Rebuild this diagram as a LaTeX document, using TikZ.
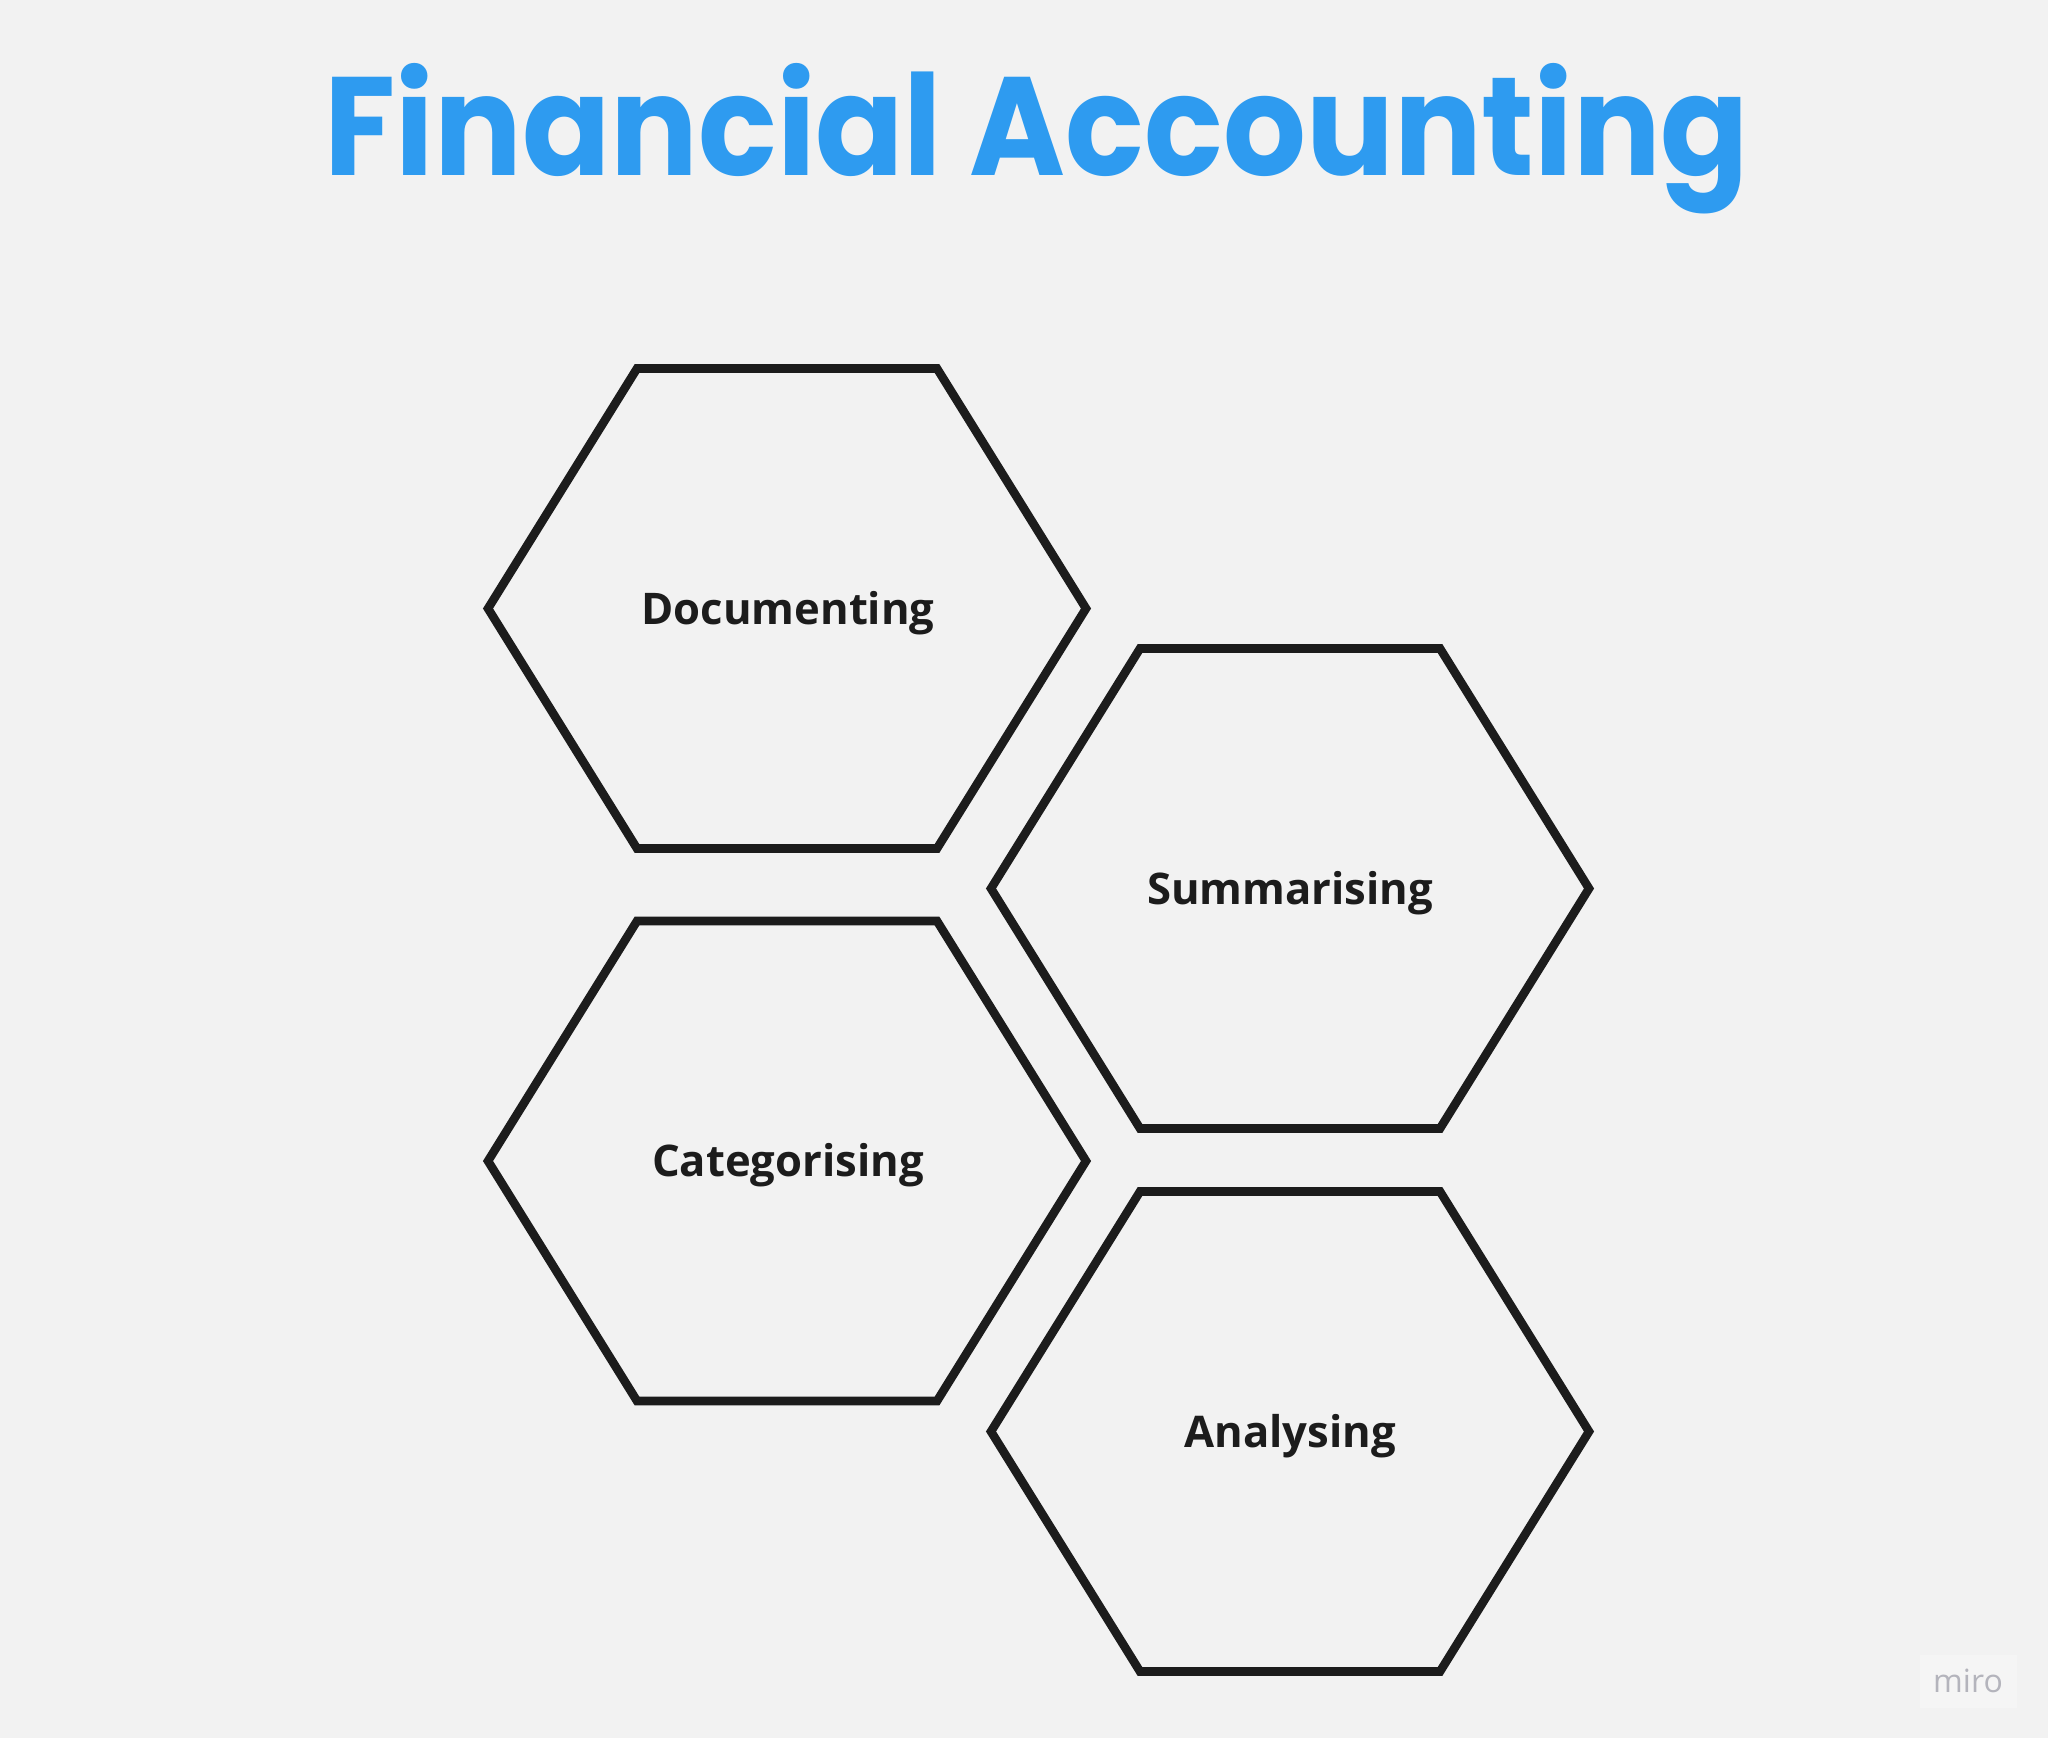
\documentclass[tikz,border=0pt]{standalone}
\usepackage{fontspec}
\setmainfont{Open Sans}
\newfontfamily\titlefont{Poppins}[FakeStretch=0.93]
\usepackage{tikz}
\usetikzlibrary{positioning}
\definecolor{paper}{HTML}{F2F2F2}
\definecolor{skyblue}{HTML}{2E9BF0}
\definecolor{inkdark}{HTML}{1C1C1C}
\definecolor{mirogrey}{HTML}{B4B4BC}
\tikzset{%
  hexline/.style={draw=inkdark,line width=4.3pt,miter limit=20},
  celltext/.style={text=inkdark,font=\fontsize{21.8}{24}\selectfont\bfseries,inner sep=0pt,text height=15.6pt,text depth=0pt}
}
\tikzset{%
  titletext/.style={text=skyblue,font=\titlefont\fontsize{70}{76}\selectfont\bfseries,inner sep=0pt,anchor=base}
}
\newcommand\hexcell[1]{%
  \draw[hexline] (#1.center) ++(-299,0) -- ++(149,-240) -- ++(300,0)
    -- ++(149,240) -- ++(-149,240) -- ++(-300,0) -- cycle;}
\begin{document}
\begin{tikzpicture}[x=0.5pt,y=-0.5pt]
  \fill[paper] (0,0) rectangle (2048,1738);
  \useasboundingbox (0,0) rectangle (2048,1738);

  \node[titletext](title) at (1037,176) {Financial Accounting};

  \node[celltext](doc) at (788,609) {Documenting};
  \node[celltext](sum) at (1290,889) {Summarising};
  \node[celltext](cat) at (788,1161) {Categorising};
  \node[celltext](ana) at (1290,1432) {Analysing};
  \foreach \c/\cx/\cy in {doc/787/608.5,sum/1290/888.5,cat/787/1161,ana/1290/1431.5}
    \coordinate (\c hex) at (\cx,\cy);
  \hexcell{dochex}
  \hexcell{sumhex}
  \hexcell{cathex}
  \hexcell{anahex}

  \fill[white,opacity=0.25] (1920,1655) rectangle (2017,1708);
  \node[text=mirogrey,font=\fontsize{16}{18}\selectfont,inner sep=0pt](miro) at (1968,1681) {miro};
\end{tikzpicture}
\end{document}
